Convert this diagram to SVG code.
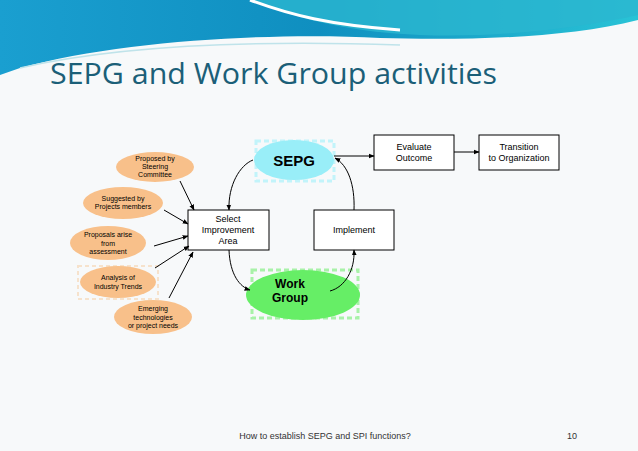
<svg xmlns="http://www.w3.org/2000/svg" width="638" height="451" viewBox="0 0 638 451">
<defs>
<linearGradient id="wave" x1="0" y1="0" x2="1" y2="0"><stop offset="0" stop-color="#1a9fd0"/><stop offset="0.5" stop-color="#0f8fc0"/><stop offset="1" stop-color="#29c3d6"/></linearGradient>
<marker id="ah" viewBox="0 0 10 10" refX="9" refY="5" markerWidth="6" markerHeight="6" orient="auto"><path d="M0,1 L10,5 L0,9 z" fill="#000"/></marker>
</defs>
<style>
.box{fill:#fff;stroke:#000;stroke-width:1}
.src{fill:#f8c08a;stroke:none}
.t{font-family:"Liberation Sans",sans-serif;font-size:9px;fill:#000;text-anchor:middle}
.ts{font-family:"Liberation Sans",sans-serif;font-size:7px;fill:#000;text-anchor:middle}
.c{fill:none;stroke:#000;stroke-width:1;marker-end:url(#ah)}
</style>
<rect width="638" height="451" fill="#f7f9fa"/>
<path d="M0,0 H638 V20 C560,40 450,40 380,38 C280,32 120,40 20,68 L0,75 Z" fill="url(#wave)"/>
<path d="M250,0 C300,20 350,32 420,35 C500,38 580,28 638,15 V0 Z" fill="#2bb6cf" opacity="0.8"/>
<path d="M250,0 C290,15 330,25 400,30" stroke="#fff" stroke-width="3" fill="none"/>
<path d="M20,68 C120,45 250,40 400,45" stroke="#bfe3ea" stroke-width="1.5" fill="none"/>
<text x="50" y="84" font-family="'Open Sans','Liberation Sans',sans-serif" font-size="29" fill="#1b5f78" textLength="447" lengthAdjust="spacingAndGlyphs">SEPG and Work Group activities</text>

<g id="n-proposed"><ellipse class="src" cx="155" cy="167" rx="39" ry="15"/><text class="ts" x="155" y="161">Proposed by</text><text class="ts" x="155" y="169">Steering</text><text class="ts" x="155" y="177">Committee</text></g>
<g id="n-suggested"><ellipse class="src" cx="123" cy="203" rx="40" ry="16"/><text class="ts" x="123" y="201">Suggested by</text><text class="ts" x="123" y="209">Projects members</text></g>
<g id="n-proposals"><ellipse class="src" cx="108" cy="243" rx="38" ry="17"/><text class="ts" x="108" y="237">Proposals arise</text><text class="ts" x="108" y="246">from</text><text class="ts" x="108" y="254">assessment</text></g>
<g id="n-analysis"><rect x="78" y="266" width="80" height="33" fill="none" stroke="#f6e2cc" stroke-dasharray="4,3" stroke-width="2"/><ellipse class="src" cx="118" cy="282" rx="38" ry="16"/><text class="ts" x="118" y="280">Analysis of</text><text class="ts" x="118" y="289">Industry Trends</text></g>
<g id="n-emerging"><ellipse class="src" cx="153" cy="317" rx="39" ry="17"/><text class="ts" x="153" y="311">Emerging</text><text class="ts" x="153" y="320">technologies</text><text class="ts" x="153" y="328">or project needs</text></g>

<g id="n-select"><rect class="box" x="188" y="210" width="81" height="40"/><text class="t" x="228" y="222">Select</text><text class="t" x="228" y="233">Improvement</text><text class="t" x="228" y="244">Area</text></g>
<g id="n-sepg"><rect x="256" y="141" width="78" height="40" fill="none" stroke="#c2f4fa" stroke-dasharray="5,3" stroke-width="3"/><ellipse cx="294" cy="160" rx="40" ry="20" fill="#99eef8"/><text x="294" y="166" font-family="'Liberation Sans',sans-serif" font-size="15" font-weight="bold" text-anchor="middle">SEPG</text></g>
<g id="n-work"><rect x="252" y="270" width="106" height="48" fill="none" stroke="#a8f2a8" stroke-dasharray="5,3" stroke-width="3"/><ellipse cx="303" cy="295" rx="57" ry="25" fill="#66ee66"/><text x="290" y="288" font-family="'Liberation Sans',sans-serif" font-size="12" font-weight="bold" text-anchor="middle">Work</text><text x="290" y="302" font-family="'Liberation Sans',sans-serif" font-size="12" font-weight="bold" text-anchor="middle">Group</text></g>
<g id="n-implement"><rect class="box" x="314" y="210" width="80" height="40"/><text class="t" x="354" y="233">Implement</text></g>
<g id="n-evaluate"><rect class="box" x="374" y="135" width="80" height="35"/><text class="t" x="414" y="150">Evaluate</text><text class="t" x="414" y="161">Outcome</text></g>
<g id="n-transition"><rect class="box" x="479" y="135" width="80" height="35"/><text class="t" x="519" y="150">Transition</text><text class="t" x="519" y="161">to Organization</text></g>

<g id="connectors">
<path class="c" d="M334,156 H374"/>
<path class="c" d="M454,152 H479"/>
<path class="c" d="M253,160 C240,165 228,185 229,210"/>
<path class="c" d="M229,250 C230,275 240,287 250,290"/>
<path class="c" d="M330,291 C345,287 355,270 354,250"/>
<path class="c" d="M354,210 C355,185 348,165 335,158"/>
<path class="c" d="M180,181 L194,210"/>
<path class="c" d="M164,210 L188,224"/>
<path class="c" d="M154,246 L188,236"/>
<path class="c" d="M155,268 L189,246"/>
<path class="c" d="M169,298 L193,252"/>
</g>
<text x="325" y="439" font-family="'Liberation Sans',sans-serif" font-size="9" text-anchor="middle" fill="#333">How to establish SEPG and SPI functions?</text>
<text x="572" y="439" font-family="'Liberation Sans',sans-serif" font-size="9" text-anchor="middle" fill="#333">10</text>
</svg>
